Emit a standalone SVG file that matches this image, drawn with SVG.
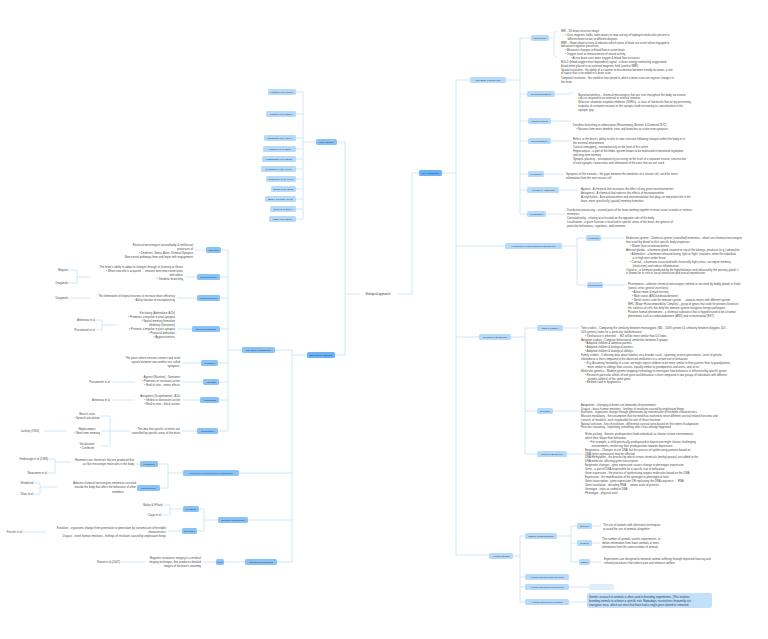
<svg xmlns="http://www.w3.org/2000/svg" width="768" height="639" viewBox="0 0 768 639">
<style>
text{font-family:"Liberation Sans",Arial,sans-serif}
.t{font-size:2.8px;fill:#4a4a4a}
.r{text-anchor:end}
.m{text-anchor:middle}
.l{font-size:2.5px;fill:#1d3a57;text-anchor:middle}
.b0{fill:#6db2f2}
.b1{fill:#8ac3f5}
.b2{fill:#b7daf9}
.b3{fill:#deeefc}
.c path{fill:none;stroke:#c9e0f6;stroke-width:0.8;stroke-linejoin:round}
</style>
<rect width="768" height="639" fill="#ffffff"/>
<g class="c" id="connectors">
<path d="M360 294H345V142H337M345 294V355H335"/>
<path d="M398 294H412V173H419M442 173H456M456 80V555M456 80H470M456 246H505M456 337H479M456 555H489"/>
<path d="M316 142H303M303 92V219M303 92H296M303 114H296M303 138H296M303 149H296M303 159H296M303 169H296M303 179H296M303 189H296M303 199H296M303 209H296M303 219H296"/>
<path d="M307 355H292M292 350V562M292 350H275M292 473H239M292 520H248M292 562H277"/>
<path d="M242 350H228M228 250V431M228 250H221M228 277H220M228 298H220M228 329H220M228 363H218M228 382H219M228 400H219M228 431H218"/>
<path d="M206 250H195M197 277H185M90 277H77M77 270V283M77 270H69M77 283H69M197 298H177M91 298H70M192 329H177M117 325H102M102 320V330M102 320H96M102 330H96M201 363H182M203 382H182M135 382H112M200 400H182M135 400H112M197 431H182M130 431H110M110 416V446M110 416H101M110 431H101M110 446H101M67 431H44"/>
<path d="M183 473H168M168 464V488M168 464H158M168 488H160M140 464H136M71 462H55M55 459V473M55 459H48M55 473H47M57 487H40M40 483V494M40 483H33M40 494H33"/>
<path d="M218 520H204M204 509V531M204 509H199M204 531H197M183 509H170M170 505V515M170 505H162M170 515H161M182 531H168M46 532H22"/>
<path d="M245 562H224M216 562H203M145 562H121"/>
<path d="M506 80H520M520 38V214M520 38H531M520 94H527M520 121H528M520 141H528M520 174H528M520 190H527M520 214H527"/>
<path d="M549 38H553M557 31.5Q554 31.5 554 34.5V54Q554 57 557 57M555 94H568L573 92.5M551 121H571M551 141H571M544 174H564M559 190H579M546 214H565"/>
<path d="M562 246H577M577 238V285M577 238H586M577 285H587M601 238H624M603 285H626"/>
<path d="M511 337H525M525 328V454M525 328H537M525 411H537M525 454H537M563 328H579M553 411H579M567 454H583"/>
<path d="M513 556H520M520 536V602M520 536H525M520 577H525M520 587H525M520 602H525M557 536H571M571 526V562M571 526H577M571 543H577M571 562H579M592 526H601M592 543H600M590 562H602M569 587H589M569 602H587"/>
</g>
<g id="root"><text x="378" y="295" class="t m" style="fill:#333">Biological approach</text></g>
<g id="core-studies"><rect class="b1" x="316" y="139" width="21" height="6" rx="1.5"/><text class="l" x="326.5" y="142.9">Core Studies</text></g>
<g id="theoretical-concepts"><rect class="b0" x="307" y="352" width="28" height="6" rx="1.5"/><text class="l" x="321" y="355.9">Theoretical concepts</text></g>
<g id="key-vocabulary"><rect class="b0" x="419" y="170" width="23" height="6" rx="1.5"/><text class="l" x="430.5" y="173.9">Key vocabulary</text></g>
<g id="cs1"><rect class="b2" x="268" y="89" width="28" height="6" rx="1.5"/><text class="l" x="282" y="92.9">Maguire et al (2000)</text></g>
<g id="cs2"><rect class="b2" x="266" y="111" width="30" height="6" rx="1.5"/><text class="l" x="281" y="114.9">Maguire et al (2006)</text></g>
<g id="cs3"><rect class="b2" x="264" y="135" width="32" height="6" rx="1.5"/><text class="l" x="280" y="138.9">Draganski et al (2004)</text></g>
<g id="cs4"><rect class="b2" x="263" y="146" width="33" height="6" rx="1.5"/><text class="l" x="279.5" y="149.9">Antonova et al (2011)</text></g>
<g id="cs5"><rect class="b2" x="262" y="156" width="34" height="6" rx="1.5"/><text class="l" x="279" y="159.9">Passamonti et al (2012)</text></g>
<g id="cs6"><rect class="b2" x="261" y="166" width="35" height="6" rx="1.5"/><text class="l" x="278.5" y="169.9">Wedekind &amp; Füri (1997)</text></g>
<g id="cs7"><rect class="b2" x="266" y="176" width="30" height="6" rx="1.5"/><text class="l" x="281" y="179.9">Newcomer et al (1999)</text></g>
<g id="cs8"><rect class="b2" x="271" y="186" width="25" height="6" rx="1.5"/><text class="l" x="283.5" y="189.9">Radke et al (2015)</text></g>
<g id="cs9"><rect class="b2" x="265" y="196" width="31" height="6" rx="1.5"/><text class="l" x="280.5" y="199.9">Bailey &amp; Pillard (1991)</text></g>
<g id="cs10"><rect class="b2" x="270" y="206" width="26" height="6" rx="1.5"/><text class="l" x="283" y="209.9">Zhou et al (2014)</text></g>
<g id="cs11"><rect class="b2" x="269" y="216" width="27" height="6" rx="1.5"/><text class="l" x="282.5" y="219.9">Caspi et al (2003)</text></g>
<g id="l-brain"><rect class="b1" x="242" y="347" width="33" height="6" rx="1.5"/><text class="l" x="258.5" y="350.9">The Brain &amp; Behaviour</text></g>
<g id="l-hormones"><rect class="b1" x="183" y="470" width="56" height="6" rx="1.5"/><text class="l" x="211" y="473.9">Hormones &amp; Pheromones on Behaviour</text></g>
<g id="l-genetics"><rect class="b1" x="218" y="517" width="30" height="6" rx="1.5"/><text class="l" x="233" y="520.9">Genetics &amp; Behaviour</text></g>
<g id="l-research"><rect class="b1" x="245" y="559" width="32" height="6" rx="1.5"/><text class="l" x="261" y="562.9">Research Techniques</text></g>
<g id="l-neurons"><rect class="b1" x="206" y="247" width="15" height="6" rx="1.5"/><text class="l" x="213.5" y="250.9">Neurons</text>
<text class="t r" x="193" y="246"><tspan x="193">Electrical messengers around body &amp; intellectual</tspan><tspan x="193" dy="3.9">processes of</tspan><tspan x="193" dy="3.9">• Dendrites, Soma, Axon, Terminal Synapse</tspan><tspan x="193" dy="3.9">New neural pathways form and linger with engagement</tspan></text></g>
<g id="l-neuroplasticity"><rect class="b1" x="197" y="274" width="23" height="6" rx="1.5"/><text class="l" x="208.5" y="277.9">Neuroplasticity</text>
<text class="t r" x="183" y="268"><tspan x="183">The brain's ability to adapt to changes through its learning or illness</tspan><tspan x="183" dy="3.9">• When new info is acquired → neurons form new connections</tspan><tspan x="183" dy="3.9">with others</tspan><tspan x="183" dy="3.9">• Dendritic branching</tspan></text>
<text class="t r" x="68" y="271">Maguire</text><text class="t r" x="68" y="284">Draganski</text></g>
<g id="l-pruning"><rect class="b1" x="197" y="295" width="23" height="6" rx="1.5"/><text class="l" x="208.5" y="298.9">Neural Pruning</text>
<text class="t r" x="175" y="297"><tspan x="175">The elimination of original neurons to increase brain efficiency</tspan><tspan x="175" dy="3.9">• A key function of neuroplasticity</tspan></text>
<text class="t r" x="68" y="299">Draganski</text></g>
<g id="l-neurotransmitters"><rect class="b1" x="192" y="326" width="28" height="6" rx="1.5"/><text class="l" x="206" y="329.9">Neurotransmitters</text>
<text class="t r" x="175" y="314"><tspan x="175">Excitatory (Adrenaline, ACh)</tspan><tspan x="175" dy="4">• Promotes a impulse in post-synapse</tspan><tspan x="175" dy="4">• Spatial memory formation</tspan><tspan x="175" dy="4">Inhibitory (Serotonin)</tspan><tspan x="175" dy="4">• Prevents a impulse in post-synapse</tspan><tspan x="175" dy="4">• Prosocial behaviour</tspan><tspan x="175" dy="4">• Aggressiveness</tspan></text>
<text class="t r" x="95" y="321">Antonova et al</text><text class="t r" x="95" y="331">Passamonti et al</text></g>
<g id="l-synapses"><rect class="b1" x="201" y="360" width="17" height="6" rx="1.5"/><text class="l" x="209.5" y="363.9">Synapses</text>
<text class="t r" x="180" y="359"><tspan x="180">The place where neurons connect and send</tspan><tspan x="180" dy="4">signals between one another are called</tspan><tspan x="180" dy="4">synapses.</tspan></text></g>
<g id="l-agonists"><rect class="b1" x="203" y="379" width="16" height="6" rx="1.5"/><text class="l" x="211" y="382.9">Agonists</text>
<text class="t r" x="180" y="378"><tspan x="180">Agonist (Nicotine) - Serotonin</tspan><tspan x="180" dy="4">• Promotes or increases action</tspan><tspan x="180" dy="4">• Bind to sites - mimic effects</tspan></text>
<text class="t r" x="110" y="383">Passamonti et al</text></g>
<g id="l-antagonists"><rect class="b1" x="200" y="397" width="19" height="6" rx="1.5"/><text class="l" x="209.5" y="400.9">Antagonists</text>
<text class="t r" x="180" y="396.5"><tspan x="180">Antagonist (Scopolamine) - ACh</tspan><tspan x="180" dy="4">• Inhibits or decreases action</tspan><tspan x="180" dy="4">• Bind to sites - block actions</tspan></text>
<text class="t r" x="110" y="401">Antonova et al</text></g>
<g id="l-localisation"><rect class="b1" x="197" y="428" width="21" height="6" rx="1.5"/><text class="l" x="207.5" y="431.9">Localisation</text>
<text class="t r" x="180" y="429.5"><tspan x="180">The idea that specific activities are</tspan><tspan x="180" dy="4">controlled by specific areas of the brain</tspan></text>
<text class="t m" x="87" y="415"><tspan x="87">Broca's area</tspan><tspan x="87" dy="4">• Speech articulation</tspan></text>
<text class="t m" x="87" y="430"><tspan x="87">Hippocampus</tspan><tspan x="87" dy="4">• Short term memory</tspan></text>
<text class="t m" x="87" y="445"><tspan x="87">Vocalisation</tspan><tspan x="87" dy="4">• Cerebrum</tspan></text>
<text class="t m" x="30" y="432">Lashley (1950)</text></g>
<g id="l-hormones-node"><rect class="b1" x="140" y="461" width="18" height="6" rx="1.5"/><text class="l" x="149" y="464.9">Hormones</text>
<text class="t r" x="134" y="461"><tspan x="134">Hormones are chemicals that are produced that</tspan><tspan x="134" dy="4">act like messenger molecules in the body</tspan></text>
<text class="t r" x="48" y="460">Kimbrough et al (1999)</text><text class="t r" x="47" y="474">Newcomer et al</text></g>
<g id="l-pheromones"><rect class="b1" x="137" y="485" width="23" height="6" rx="1.5"/><text class="l" x="148.5" y="488.9">Pheromones</text>
<text class="t r" x="136" y="484"><tspan x="136">Airborne chemical messengers emitted or secreted</tspan><tspan x="136" dy="4.3">outside the body that affect the behaviour of other</tspan><tspan x="124" dy="4.7">members</tspan></text>
<text class="t r" x="33" y="484">Wedekind</text><text class="t r" x="33" y="495">Zhou et al</text></g>
<g id="l-heritability"><rect class="b1" x="183" y="506" width="16" height="6" rx="1.5"/><text class="l" x="191" y="509.9">Heritability</text>
<text class="t r" x="162" y="506">Bailey &amp; Pillard</text><text class="t r" x="161" y="516">Caspi et al</text></g>
<g id="l-evolution"><rect class="b1" x="182" y="528" width="15" height="6" rx="1.5"/><text class="l" x="189.5" y="531.9">Evolution</text>
<text class="t r" x="166" y="529"><tspan x="166">Evolution - organisms change from generation to generation by transmission of heritable</tspan><tspan x="166" dy="4">characteristics</tspan><tspan x="166" dy="4">Disgust - novel human emotions - feelings of revulsion caused by unpleasant things</tspan></text>
<text class="t r" x="22" y="533">Fessler et al</text></g>
<g id="l-fmri"><rect class="b1" x="216" y="559" width="8" height="6" rx="1.5"/><text class="l" x="220" y="562.9">fMRI</text>
<text class="t r" x="201" y="559"><tspan x="201">Magnetic resonance imaging is a medical</tspan><tspan x="201" dy="4">imaging technique, that produces detailed</tspan><tspan x="201" dy="4">images of the brain's anatomy</tspan></text>
<text class="t r" x="120" y="563">Sharot et al (2007)</text></g>
<g id="r-brain"><rect class="b2" x="470" y="77" width="36" height="6" rx="1.5"/><text class="l" x="488" y="80.9">The Brain &amp; Behaviour</text></g>
<g id="r-hormones"><rect class="b2" x="505" y="243" width="57" height="6" rx="1.5"/><text class="l" x="533.5" y="246.9">Hormones &amp; Pheromones on Behaviour</text></g>
<g id="r-genetics"><rect class="b2" x="479" y="334" width="32" height="6" rx="1.5"/><text class="l" x="495" y="337.9">Genetics &amp; Behaviour</text></g>
<g id="r-animal"><rect class="b2" x="489" y="553" width="24" height="6" rx="1.5"/><text class="l" x="501" y="556.9">Animal Studies</text></g>
<g id="r-technology"><rect class="b2" x="531" y="35" width="18" height="6" rx="1.5"/><text class="l" x="540" y="38.9">Technology</text>
<text class="t" x="561" y="32"><tspan x="561">MRI - 3D brain structure image</tspan><tspan x="565" dy="3.85">• Uses magnetic fields, radio waves to map activity of hydrogen molecules present in</tspan><tspan x="567.5" dy="3.85">different brain tissue at different degrees</tspan><tspan x="561" dy="3.85">fMRI - Shows brain activity &amp; indicates which areas of brain are active when engaged in</tspan><tspan x="561" dy="3.85">behaviour/cognitive processes</tspan><tspan x="565" dy="3.85">• Measures changes in blood flow in active brain</tspan><tspan x="565" dy="3.85">• Oxygen level as measurement of neural activity</tspan><tspan x="571" dy="3.85">• Active brain uses more oxygen &amp; blood flow increases</tspan><tspan x="561" dy="3.85">BOLD (blood oxygen level dependent) signal - a direct energy emitted by oxygenated</tspan><tspan x="561" dy="3.85">blood when placed in an external magnetic field (used in fMRI)</tspan><tspan x="561" dy="3.85">Spatial resolution - the ability of a scanner to discriminate between nearby locations, a unit</tspan><tspan x="561" dy="3.85">of space that is recorded in a brain scan</tspan><tspan x="561" dy="4.3">Temporal resolution - the smallest time period in which a brain scan can register changes in</tspan><tspan x="561" dy="3.85">the brain</tspan></text></g>
<g id="r-neurotransmitters"><rect class="b2" x="527" y="91" width="28" height="6" rx="1.5"/><text class="l" x="541" y="94.9">Neurotransmitters</text>
<text class="t" x="578" y="95.5"><tspan x="578">Neurotransmitters - chemical messengers that are sent throughout the body via neuron</tspan><tspan x="578" dy="3.9">cells as respond to an external or internal stimulus</tspan><tspan x="578" dy="3.9">Selective serotonin reuptake inhibitors (SSRIs) - a class of chemicals that act by preventing</tspan><tspan x="578" dy="3.9">reuptake of serotonin neurons in the synaptic knob increasing its concentration in the</tspan><tspan x="578" dy="3.9">synaptic gap</tspan></text></g>
<g id="r-pruning"><rect class="b2" x="528" y="118" width="23" height="6" rx="1.5"/><text class="l" x="539.5" y="121.9">Neural Pruning</text>
<text class="t" x="573" y="126"><tspan x="573">Dendritic branching or arborisation (Rosenzweig, Bennett &amp; Diamond 1972)</tspan><tspan x="576" dy="3.9">• Neurons form more dendritic trees and branches to create new synapses</tspan></text></g>
<g id="r-neuroplasticity"><rect class="b2" x="528" y="138" width="23" height="6" rx="1.5"/><text class="l" x="539.5" y="141.9">Neuroplasticity</text>
<text class="t" x="573" y="140.3"><tspan x="573">Refers to the brain's ability to alter its own structure following changes within the body or in</tspan><tspan x="573" dy="4">the external environment</tspan><tspan x="573" dy="4">Cortical remapping - neuroplasticity on the level of the cortex</tspan><tspan x="573" dy="4">Hippocampus - a part of the limbic system known to be implicated in emotional regulation</tspan><tspan x="573" dy="4">and long-term memory</tspan><tspan x="573" dy="4">Synaptic plasticity - neuroplasticity occurring on the level of a separate neuron, construction</tspan><tspan x="573" dy="4">of new synaptic connections and elimination of the ones that are not used</tspan></text></g>
<g id="r-synapses"><rect class="b2" x="528" y="171" width="16" height="6" rx="1.5"/><text class="l" x="536" y="174.9">Synapses</text>
<text class="t" x="566" y="175.3"><tspan x="566">Synapses of the neurons - the gaps between the dendrites of a neuron cell, used for nerve</tspan><tspan x="566" dy="4">information from the next neuron cell</tspan></text></g>
<g id="r-agonist"><rect class="b2" x="527" y="187" width="32" height="6" rx="1.5"/><text class="l" x="543" y="190.9">Agonist &amp; Antagonist</text>
<text class="t" x="581" y="190.3"><tspan x="581">Agonist - A chemical that increases the effect of any given neurotransmitter</tspan><tspan x="581" dy="4">Antagonist - A chemical that reduces the effects of neurotransmitter</tspan><tspan x="581" dy="4">Acetylcholine - A neurotransmitter and neuromodulator that plays an important role in the</tspan><tspan x="581" dy="4">brain, more specifically (spatial) memory formation</tspan></text></g>
<g id="r-localisation"><rect class="b2" x="527" y="211" width="19" height="6" rx="1.5"/><text class="l" x="536.5" y="214.9">Localisation</text>
<text class="t" x="567" y="211"><tspan x="567">Distributive processing - several parts of the brain working together in most cases to make or retrieve</tspan><tspan x="567" dy="3.9">memories</tspan><tspan x="567" dy="3.9">Contralaterality - relating to or located on the opposite side of the body</tspan><tspan x="567" dy="3.9">Localisation - a given function is localised in specific areas of the brain, the genesis of</tspan><tspan x="567" dy="3.9">particular behaviours, cognitions, and emotions</tspan></text></g>
<g id="r-hormones-node"><rect class="b2" x="586" y="235" width="15" height="6" rx="1.5"/><text class="l" x="593.5" y="238.9">Hormones</text>
<text class="t" x="626" y="239.3"><tspan x="626">Endocrine system - Chemical system (controlled) hormones - which are chemical messengers</tspan><tspan x="626" dy="3.9">that travel by blood to elicit specific body responses</tspan><tspan x="630" dy="3.9">• Slower than neurotransmitters</tspan><tspan x="626" dy="3.9">Adrenal glands - a hormone gland situated on top of the kidneys, produces (e.g.) adrenaline</tspan><tspan x="630" dy="3.9">• Adrenaline - a hormone released during 'fight or flight' situations, when the individual</tspan><tspan x="632.5" dy="3.9">is in high alert under threat</tspan><tspan x="630" dy="3.9">• Cortisol - a hormone associated with chronically high stress, can impair memory</tspan><tspan x="632.5" dy="3.9">(short-term) and reduce inflammation</tspan><tspan x="626" dy="3.9">Oxytocin - a hormone produced by the hypothalamus and released by the pituitary gland; it</tspan><tspan x="626" dy="3.9">is known for its role in social interaction and sexual reproduction</tspan></text></g>
<g id="r-pheromones"><rect class="b2" x="587" y="282" width="16" height="6" rx="1.5"/><text class="l" x="595" y="285.9">Pheromones</text>
<text class="t" x="628" y="285.3"><tspan x="628">Pheromones - airborne chemical messengers emitted or secreted by bodily glands or fluids</tspan><tspan x="628" dy="4">(sweat, urine, genital secretions)</tspan><tspan x="632" dy="4">• Attract mate &amp; mark territory</tspan><tspan x="632" dy="4">• Male sweat (AND/androstadienone)</tspan><tspan x="632" dy="4">• Smell carries code for immune system → arouses mates with different system</tspan><tspan x="628" dy="4">MHC (Major Histocompatibility Complex) - group of genes that code for proteins found on</tspan><tspan x="628" dy="4">the surfaces of cells that help the immune system recognise foreign pathogens</tspan><tspan x="628" dy="4">Putative human pheromone - a chemical substance that is hypothesized to be a human</tspan><tspan x="628" dy="4">pheromone such as androstadienone (AND) and estratetraenol (EST)</tspan></text></g>
<g id="r-twin"><rect class="b2" x="537" y="325" width="26" height="6" rx="1.5"/><text class="l" x="550" y="328.9">Twin &amp; Kinship</text>
<text class="t" x="581" y="328.8"><tspan x="581">Twin studies - Comparing the similarity between monozygotic (MZ - 100% genetic) &amp; similarity between dizygotic (DZ -</tspan><tspan x="581" dy="3.9">50% genetic) twins for a particular trait/behaviour</tspan><tspan x="585" dy="3.9">• If behaviour is inherited → MZ will be more similar than DZ twins</tspan><tspan x="581" dy="3.9">Adoption studies - Compare behavioural similarities between 3 groups:</tspan><tspan x="585" dy="3.9">• Adopted children &amp; adoptive parents</tspan><tspan x="585" dy="3.9">• Adopted children &amp; biological parents</tspan><tspan x="585" dy="3.9">• Adopted children &amp; biological siblings</tspan><tspan x="581" dy="3.9">Family studies - Collecting data about families on a broader scale - spanning several generations. Level of genetic</tspan><tspan x="581" dy="3.9">relatedness is then compared to the observed similarities in a certain trait or behaviour</tspan><tspan x="585" dy="3.9">• E.g. Assuming heritability of a trait, we might expect children to be more similar to their parents than to grandparents,</tspan><tspan x="587.5" dy="3.9">more similar to siblings than cousins, equally similar to grandparents and aunts, and so on</tspan><tspan x="581" dy="3.9">Molecular genetics - Modern genetic mapping technology to investigate how behaviour is influenced by specific genes</tspan><tspan x="585" dy="3.9">• Research particular alleles of one gene and behaviour is then compared in two groups of individuals with different</tspan><tspan x="587.5" dy="3.9">variants (alleles) of the same gene</tspan><tspan x="585" dy="3.9">• Method used in epigenetics</tspan></text></g>
<g id="r-evolution"><rect class="b2" x="537" y="408" width="16" height="6" rx="1.5"/><text class="l" x="545" y="411.9">Evolution</text>
<text class="t" x="581" y="406"><tspan x="581">Adaptation - changing to better suit demands of environment</tspan><tspan x="581" dy="3.7">Disgust - basic human emotions - feelings of revulsion caused by unpleasant things</tspan><tspan x="581" dy="3.7">Evolution - organisms change through generations by transmission of heritable characteristics</tspan><tspan x="581" dy="3.7">Massive modularity - the assumption that the mind has evolved to serve different survival related functions and</tspan><tspan x="581" dy="3.7">consists of 'modules' each responsible for one of these functions</tspan><tspan x="581" dy="3.7">Natural selection - key of evolution - differential survival rates based on the extent of adaptation</tspan><tspan x="581" dy="3.7">Post-hoc reasoning - explaining something after it has already happened</tspan></text></g>
<g id="r-genes"><rect class="b2" x="537" y="451" width="30" height="6" rx="1.5"/><text class="l" x="552" y="454.9">Genes &amp; Behaviour</text>
<text class="t" x="585" y="435"><tspan x="585">Niche-picking - Genetic predisposition leads individuals to choose certain environments,</tspan><tspan x="585" dy="3.9">which then shape their behaviour</tspan><tspan x="589" dy="3.9">• For example, a child genetically predisposed to depression might choose challenging</tspan><tspan x="591.5" dy="3.9">environments, reinforcing their predisposition towards depression.</tspan><tspan x="585" dy="3.9">Epigenetics - Changes in our DNA, but the process of synthesizing proteins based on</tspan><tspan x="585" dy="3.9">DNA (gene expression) may be affected</tspan><tspan x="585" dy="3.9">DNA methylation - the process by which certain chemicals (methyl groups) are added to the</tspan><tspan x="585" dy="3.9">DNA molecule, affecting gene transcription</tspan><tspan x="585" dy="3.9">Epigenetic changes - gene expression causes change in phenotypic expression</tspan><tspan x="585" dy="3.9">Gene - a part of DNA responsible for a specific trait or behaviour</tspan><tspan x="585" dy="3.9">Gene expression - the process of synthesizing organic molecules based on the DNA</tspan><tspan x="585" dy="3.9">Expression - the manifestation of the genotype in phenotypical traits</tspan><tspan x="585" dy="3.9">Gene transcription - gene expression OR replicating the DNA sequence → RNA</tspan><tspan x="585" dy="3.9">Gene translation - decoding RNA → amino acids of proteins</tspan><tspan x="585" dy="3.9">Genotype - traits as coded in DNA</tspan><tspan x="585" dy="3.9">Phenotype - physical traits</tspan></text></g>
<g id="r-ethical"><rect class="b2" x="525" y="533" width="32" height="6" rx="1.5"/><text class="l" x="541" y="536.9">Ethical Considerations</text></g>
<g id="r-replace"><rect class="b2" x="577" y="523" width="15" height="6" rx="1.5"/><text class="l" x="584.5" y="526.9">Replace</text>
<text class="t" x="603" y="526"><tspan x="603">The use of animals with alternative techniques</tspan><tspan x="603" dy="4">or avoid the use of animals altogether</tspan></text></g>
<g id="r-reduce"><rect class="b2" x="577" y="540" width="15" height="6" rx="1.5"/><text class="l" x="584.5" y="543.9">Reduce</text>
<text class="t" x="602" y="540"><tspan x="602">The number of animals used in experiments, to</tspan><tspan x="602" dy="4">obtain information from fewer animals or more</tspan><tspan x="602" dy="4">information from the same number of animals</tspan></text></g>
<g id="r-refine"><rect class="b2" x="579" y="559" width="11" height="6" rx="1.5"/><text class="l" x="584.5" y="562.9">Refine</text>
<text class="t" x="604" y="560"><tspan x="604">Experiments are designed to minimize animal suffering through improved housing and</tspan><tspan x="604" dy="4">refined procedures that reduce pain and enhance welfare</tspan></text></g>
<g id="r-ar-brain"><rect class="b2" x="525" y="574" width="44" height="6" rx="1.5"/><text class="l" x="547" y="577.9">Animal research and the brain</text></g>
<g id="r-ar-hormones"><rect class="b2" x="525" y="584" width="44" height="6" rx="1.5"/><text class="l" x="547" y="587.9">Animal research on hormones</text>
<rect class="b3" x="589" y="584" width="25" height="6" rx="1.5"/></g>
<g id="r-ar-genetics"><rect class="b2" x="525" y="599" width="44" height="6" rx="1.5"/><text class="l" x="547" y="602.9">Animal research on genetics</text>
<rect x="587" y="593" width="125" height="15" rx="2" fill="#c3e0fa"/>
<text class="t" x="589" y="598" style="fill:#1d3a57"><tspan x="589">Genetic research in animals is often used in breeding experiments. (This involves</tspan><tspan x="589" dy="4">breeding animals to achieve a specific trait. Nowadays, researchers frequently use</tspan><tspan x="589" dy="4">transgenic mice, which are mice that have had a single gene altered or removed.</tspan></text></g>
</svg>
